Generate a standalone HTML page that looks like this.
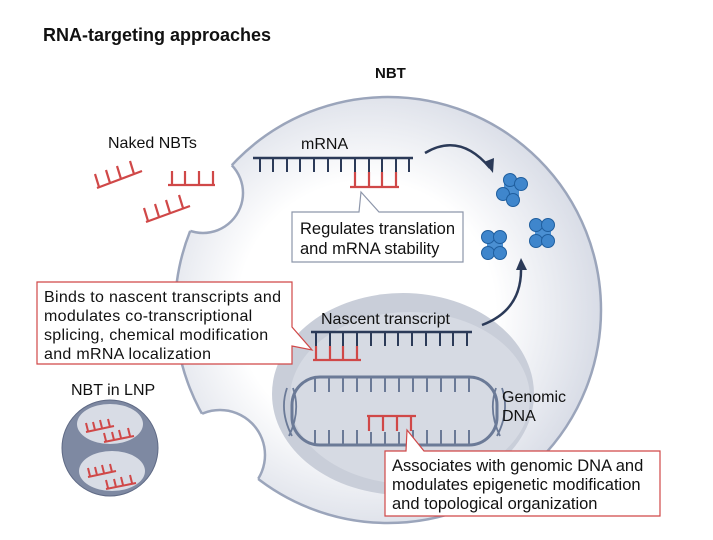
<!DOCTYPE html>
<html><head><meta charset="utf-8"><style>
html,body{margin:0;padding:0;background:#fff;}
svg{display:block;font-family:"Liberation Sans",sans-serif;}
</style></head><body>
<svg width="713" height="540" viewBox="0 0 713 540" xmlns="http://www.w3.org/2000/svg">
<defs>
<radialGradient id="cg" cx="0.45" cy="0.5" r="0.55">
<stop offset="0.55" stop-color="#ffffff"/><stop offset="1" stop-color="#d8dce6"/>
</radialGradient>
<mask id="cellm"><rect width="713" height="540" fill="#fff"/><circle cx="203" cy="193" r="40" fill="#000"/><circle cx="220" cy="455" r="45" fill="#000"/></mask>
<mask id="inside"><rect width="713" height="540" fill="#000"/><circle cx="388" cy="310" r="213" fill="#fff"/></mask>
</defs>
<text x="43" y="41" font-size="18" font-weight="bold" fill="#111" textLength="228" lengthAdjust="spacingAndGlyphs">RNA-targeting approaches</text>
<text x="375" y="78" font-size="15" font-weight="bold" fill="#111">NBT</text>

<g mask="url(#cellm)"><circle cx="388" cy="310" r="213" fill="url(#cg)" stroke="#9ba5bb" stroke-width="2.5"/></g>
<g mask="url(#inside)" fill="none" stroke="#9ba5bb" stroke-width="2.5"><circle cx="203" cy="193" r="40"/><circle cx="220" cy="455" r="45"/></g>

<ellipse cx="403" cy="394" rx="131" ry="101" fill="#c9ced9"/>
<ellipse cx="410" cy="398" rx="120" ry="86" fill="#d6dae3"/>

<g stroke="#6b7a97" stroke-width="3" fill="none">
<rect x="292" y="377" width="205" height="68" rx="28"/>
</g>
<g stroke="#6b7a97" stroke-width="1.8" fill="none">
<path d="M293 388 Q301 411 289 436 M287 388 Q279 411 292 436 M496 388 Q488 411 500 436 M502 388 Q510 411 497 436"/>
</g>
<g stroke="#6b7a97" stroke-width="2">
<path d="M315 377v15M329 377v15M343 377v15M357 377v15M371 377v15M385 377v15M399 377v15M413 377v15M427 377v15M441 377v15M455 377v15M469 377v15"/>
<path d="M315 445v-15M329 445v-15M343 445v-15M357 445v-15M413 445v-15M427 445v-15M441 445v-15M455 445v-15M469 445v-15"/>
<path d="M371 445v-13M385 445v-13M399 445v-13"/>
</g>
<g stroke="#d04848" stroke-width="2.2"><path d="M367 416h49M369 416v15M383 416v15M397 416v15M411 416v15"/></g>

<g stroke="#2b3a58" stroke-width="2.5"><path d="M311 332H472"/></g>
<g stroke="#2b3a58" stroke-width="2"><path d="M316 332v14M330 332v14M343 332v14M357 332v14M371 332v14M385 332v14M398 332v14M412 332v14M426 332v14M440 332v14M453 332v14M467 332v14"/></g>
<g stroke="#d04848" stroke-width="2.2"><path d="M313 360h48M316 346v14M330 346v14M343 346v14M357 346v14"/></g>
<text x="321" y="324" font-size="16" fill="#111">Nascent transcript</text>

<text x="301" y="149" font-size="16" fill="#111">mRNA</text>
<g stroke="#2b3a58" stroke-width="2.5"><path d="M253 158H413"/></g>
<g stroke="#2b3a58" stroke-width="2"><path d="M260 158v14M273 158v14M287 158v14M300 158v14M314 158v14M328 158v14M341 158v14M355 158v14M369 158v14M382 158v14M396 158v14M409 158v14"/></g>
<g stroke="#d04848" stroke-width="2.2"><path d="M350 187h49M355 172v15M369 172v15M382 172v15M396 172v15"/></g>

<g fill="none" stroke="#2b3a58" stroke-width="2.5">
<path d="M425 153 Q460 132 490 168"/>
<path d="M482 325 Q522 310 521 268"/>
</g>
<path d="M484 162 L493 173 L494 158 Z" fill="#2b3a58"/>
<path d="M516 270 L521 258 L527 270 Z" fill="#2b3a58"/>

<g fill="#3f86cc" stroke="#1f5e9e" stroke-width="1">
<rect x="504" y="182" width="15" height="14" fill="#4a8fd2" stroke="none"/>
<circle cx="510" cy="180" r="6.5"/><circle cx="521" cy="184" r="6.5"/><circle cx="503" cy="194" r="6.5"/><circle cx="513" cy="200" r="6.5"/>
<rect x="487" y="236" width="16" height="18" fill="#4a8fd2" stroke="none"/>
<circle cx="488" cy="237" r="6.5"/><circle cx="500" cy="237" r="6.5"/><circle cx="488" cy="253" r="6.5"/><circle cx="500" cy="253" r="6.5"/>
<rect x="535" y="223" width="16" height="18" fill="#4a8fd2" stroke="none"/>
<circle cx="536" cy="225" r="6.5"/><circle cx="548" cy="225" r="6.5"/><circle cx="536" cy="241" r="6.5"/><circle cx="548" cy="241" r="6.5"/>
</g>

<text x="108" y="148" font-size="16" fill="#111">Naked NBTs</text>
<g stroke="#d04848" stroke-width="2.2" fill="none">
<path d="M97 188L142 171M99 187l-4-13M110 183l-4-13M121 179l-4-13M134 174l-4-13"/>
<path d="M168 185h47M172 185v-14M185 185v-14M199 185v-14M213 185v-14"/>
<path d="M146 222L190 206M148 221l-4-13M159 217l-4-13M170 213l-4-13M183 208l-4-13"/>
</g>

<text x="71" y="395" font-size="16" fill="#111">NBT in LNP</text>
<circle cx="110" cy="448" r="48" fill="#7e89a2" stroke="#5f6a85" stroke-width="1"/>
<ellipse cx="110" cy="424" rx="33" ry="20" fill="#d8dce5"/>
<ellipse cx="112" cy="471" rx="33" ry="20" fill="#d8dce5"/>
<g stroke="#d04848" stroke-width="2" fill="none">
<path d="M86 432l28-6M88 431l-2-8M95 430l-2-8M102 428l-2-8M110 427l-2-8"/>
<path d="M104 442l30-6M106 441l-2-8M114 440l-2-8M121 438l-2-8M130 436l-2-8"/>
<path d="M88 477l28-6M90 476l-2-8M97 475l-2-8M104 473l-2-8M112 472l-2-8"/>
<path d="M106 489l30-6M108 488l-2-8M116 487l-2-8M123 485l-2-8M132 483l-2-8"/>
</g>

<path d="M292 212H359L361 192L379 212H463V262H292Z" fill="#fff" stroke="#8d96aa" stroke-width="1.2"/>
<text font-size="16.5" fill="#111"><tspan x="300" y="234">Regulates translation</tspan><tspan x="300" y="254">and mRNA stability</tspan></text>

<path d="M37 282H292V327L312 350L292 346V364H37Z" fill="#fff" stroke="#d04848" stroke-width="1.2"/>
<text font-size="16" fill="#111" letter-spacing="0.3"><tspan x="44" y="302">Binds to nascent transcripts and</tspan><tspan x="44" y="321">modulates co-transcriptional</tspan><tspan x="44" y="340">splicing, chemical modification</tspan><tspan x="44" y="359">and mRNA localization</tspan></text>

<text font-size="16" fill="#111"><tspan x="502" y="402">Genomic</tspan><tspan x="502" y="421">DNA</tspan></text>

<path d="M385 451H406L407 430L424 451H660V516H385Z" fill="#fff" stroke="#d04848" stroke-width="1.2"/>
<text font-size="16.5" fill="#111"><tspan x="392" y="471">Associates with genomic DNA and</tspan><tspan x="392" y="490">modulates epigenetic modification</tspan><tspan x="392" y="509">and topological organization</tspan></text>
</svg>
</body></html>
